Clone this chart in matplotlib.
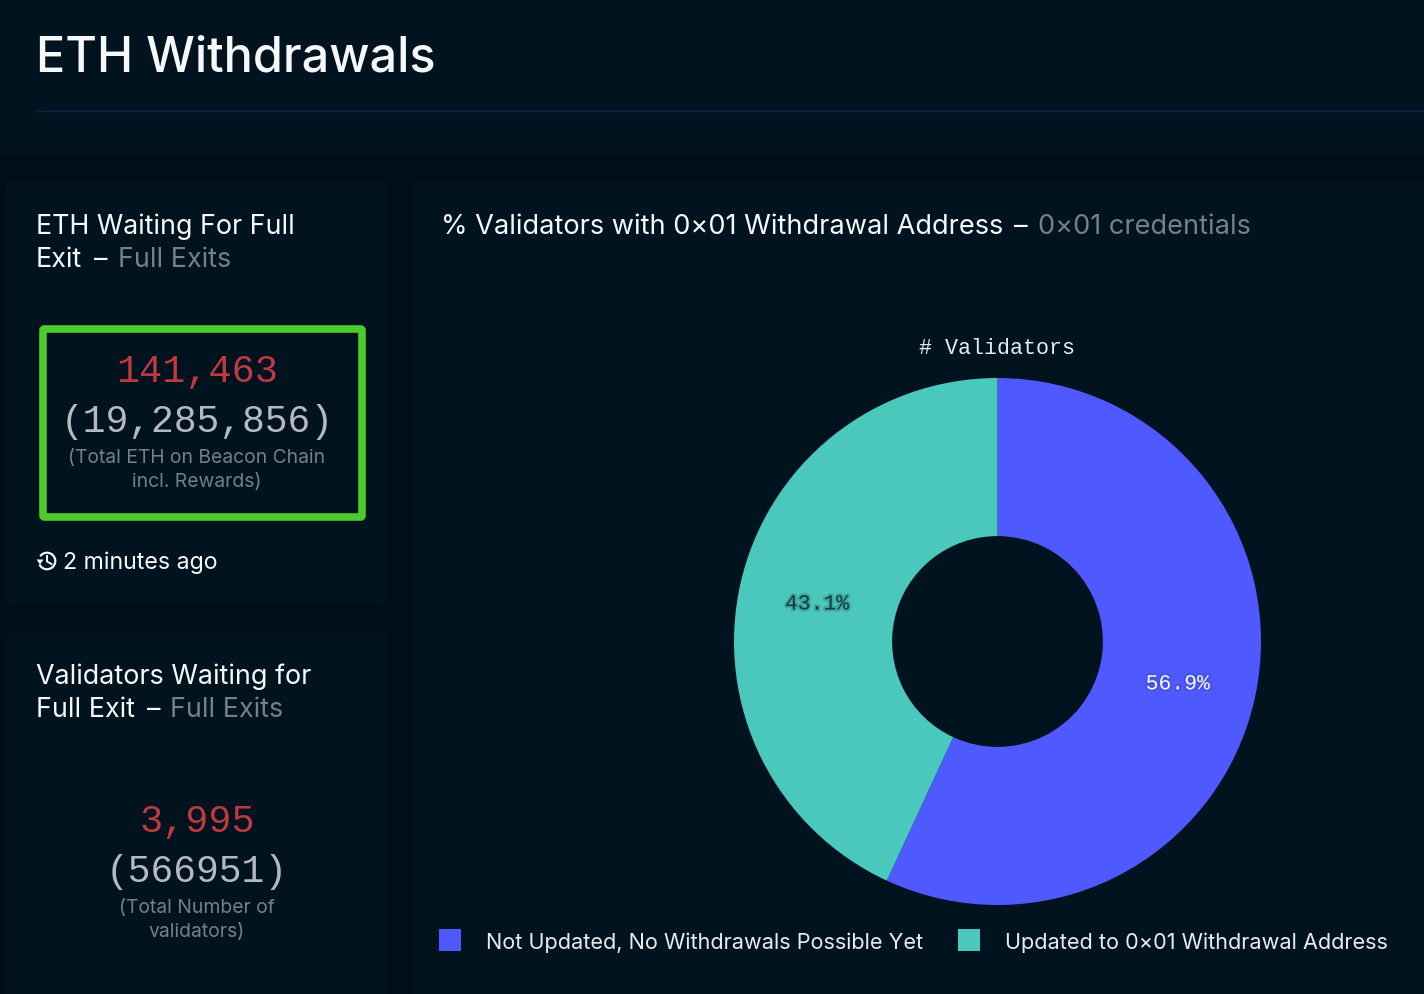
import matplotlib
matplotlib.use("Agg")
import matplotlib.pyplot as plt
from matplotlib.patches import FancyBboxPatch, Arc, Polygon
from matplotlib.lines import Line2D
import matplotlib.patheffects as pe

# --- data ---
slice_labels = ["Not Updated, No Withdrawals Possible Yet", "Updated to 0×01 Withdrawal Address"]
slice_values = [56.9, 43.1]
slice_colors = ["#4E5AFF", "#4BC8BC"]
page_title = "ETH Withdrawals"
pie_title = "# Validators"
stat_top = ["141,463", "3,995"]
stat_mid = ["(19,285,856)", "(566951)"]
stat_note = ["(Total ETH on Beacon Chain\nincl. Rewards)", "(Total Number of\nvalidators)"]

PAGE = "#010D17"
PANEL = "#00131F"
WHITE = "#F6F8FA"
GREY = "#74808B"
RED = "#BE3A3F"
LGREY = "#B4BABF"
SANS = ["Inter", "DejaVu Sans"]
MONO = ["Liberation Mono", "DejaVu Sans Mono"]
px = 0.72

fig = plt.figure(figsize=(14.24, 9.94), dpi=100, facecolor=PAGE)
bg = fig.add_axes([0, 0, 1, 1])
bg.set_xlim(0, 1424)
bg.set_ylim(994, 0)
bg.axis("off")


def panel(x0, y0, x1, y1):
    bg.add_patch(FancyBboxPatch((x0 + 8, y0 + 8), x1 - x0 - 16, y1 - y0 - 16,
                                boxstyle="round,pad=8,rounding_size=8",
                                fc=PANEL, ec="none"))


panel(-20, -20, 1444, 155)
panel(5, 181, 388, 605)
panel(5, 631, 388, 1020)
panel(412, 181, 1444, 1020)
bg.add_line(Line2D([36, 1424], [110.5, 110.5], color="#0A2445", lw=1))
bg.text(36, 72, page_title, color=WHITE, fontsize=48.6 * px, family=SANS, va="baseline", ha="left",
        fontweight="medium")


def runs(x, y, parts, size):
    r = fig.canvas.get_renderer()
    for s, c, gap in parts:
        t = bg.text(x, y, s, color=c, fontsize=size * px, family=SANS, va="baseline", ha="left")
        x = bg.transData.inverted().transform(t.get_window_extent(r))[1, 0] + gap


runs(36, 234, [("ETH Waiting For Full", WHITE, 0)], 26.8)
runs(36, 267, [("Exit", WHITE, 12), ("–", WHITE, 10), ("Full Exits", GREY, 0)], 26.9)
runs(36, 684, [("Validators Waiting for", WHITE, 0)], 26.9)
runs(36, 717, [("Full Exit", WHITE, 12), ("–", WHITE, 9), ("Full Exits", GREY, 0)], 26.9)
runs(441, 234, [("% Validators with 0×01 Withdrawal Address", WHITE, 11), ("–", WHITE, 10),
                ("0×01 credentials", GREY, 0)], 27.15)

bg.add_patch(FancyBboxPatch((43, 329), 319, 188, boxstyle="round,pad=0,rounding_size=1.5",
                            fc="none", ec="#4CCB2C", lw=7.6 * px))

for i, cy in enumerate([370, 820]):
    bg.text(197, cy + 2, stat_top[i], color=RED, fontsize=38.5 * px, family=MONO, ha="center", va="center")
    bg.text(197, cy + 52, stat_mid[i], color=LGREY, fontsize=38 * px, family=MONO, ha="center", va="center")
    bg.text(197, cy + 100, stat_note[i], color=GREY, fontsize=19.3 * px, family=SANS, ha="center", va="center",
            linespacing=1.38)

# history icon
bg.add_patch(Arc((47, 561), 16.5, 16.5, theta1=-145, theta2=155, color=WHITE, lw=1.6))
bg.add_patch(Polygon([[36.5, 559.5], [43.5, 559.5], [40, 564.5]], fc=WHITE, ec="none"))
bg.add_line(Line2D([47, 47, 51.5], [556, 561.5, 564], color=WHITE, lw=1.4))
bg.text(63, 569, "2 minutes ago", color=WHITE, fontsize=23.1 * px, family=SANS, ha="left", va="baseline")

# donut
ax = fig.add_axes([734 / 1424, 1 - 905 / 994, 527 / 1424, 527 / 994])
ax.set_facecolor("none")
wedges, _, autotexts = ax.pie(slice_values, colors=slice_colors, startangle=90, counterclock=False,
                              radius=1.0, wedgeprops=dict(width=0.6, linewidth=0),
                              autopct="%.1f%%", pctdistance=0.705,
                              textprops=dict(family=MONO, fontsize=21.4 * px))
ax.set_xlim(-1, 1)
ax.set_ylim(-1, 1)
autotexts[0].set_color("#F4F6F8")
autotexts[1].set_color("#1B3A3E")
autotexts[0].set_path_effects([pe.withStroke(linewidth=3, foreground="#3F49D0", alpha=0.5)])
autotexts[1].set_path_effects([pe.withStroke(linewidth=3, foreground="#2F8F88", alpha=0.5)])
for t, dx in zip(autotexts, (-0.004, 0.004)):
    tx, ty = t.get_position()
    t.set_position((tx + dx, ty - 0.009))
bg.text(997, 348, pie_title, color="#E8ECEF", fontsize=21.6 * px, family=MONO, ha="center", va="center")

leg = bg.legend(wedges, slice_labels, ncol=2, loc="lower left", bbox_to_anchor=(439 / 1424, 1 - 953 / 994),
                bbox_transform=fig.transFigure, frameon=False, borderpad=0, borderaxespad=0,
                handlelength=1.02, handleheight=1.19, handletextpad=1.16, columnspacing=1.6,
                prop=dict(family=SANS, size=21.65 * px), labelcolor="#E8ECEF")
for h in leg.get_patches():
    h.set_y(h.get_y() + 1.5)

fig.savefig("out.png", dpi=100, facecolor=fig.get_facecolor())
